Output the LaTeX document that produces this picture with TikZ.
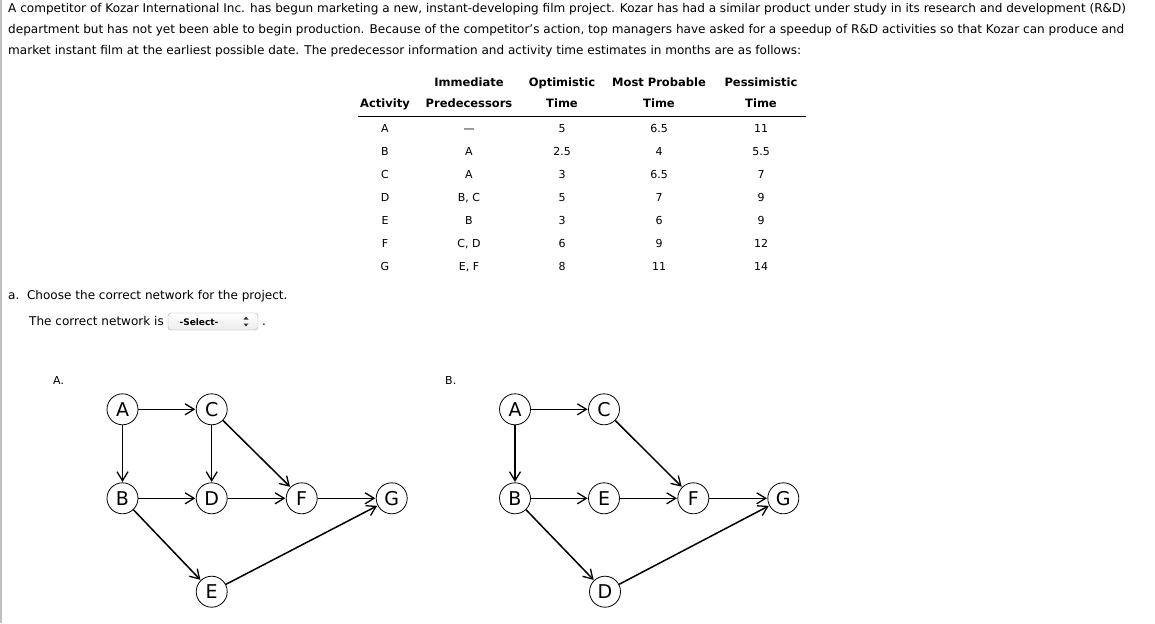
\documentclass[tikz,border=0pt]{standalone}
\usepackage{fontspec}
\setmainfont{DejaVu Sans}
\usetikzlibrary{arrows.meta}
\begin{document}
\begin{tikzpicture}[x=1pt,y=-1pt,
  txt/.style={anchor=base west,inner sep=0pt,font=\fontsize{12.05}{14}\selectfont},
  hd/.style={anchor=base,inner sep=0pt,font=\fontsize{11.5}{13}\selectfont\bfseries},
  cell/.style={anchor=base,inner sep=0pt,font=\fontsize{11}{13}\selectfont},
  ev/.style={circle,draw,line width=0.8pt,minimum size=31pt,inner sep=0pt,font=\fontsize{19}{20}\selectfont},
  arr/.style={-{Straight Barb[length=9pt,width=11pt,line width=1.3pt]},line width=1.5pt,shorten >=0.5pt}
]
\useasboundingbox (0,0) rectangle (1155,623);
\fill[white] (0,0) rectangle (1155,623);
\draw[gray!50,line width=1.5pt] (1,0) -- (1,623);
% intro text
\node[txt] (l1) at (8,13) {A competitor of Kozar International Inc. has begun marketing a new, instant-developing film project. Kozar has had a similar product under study in its research and development (R\&D)};
\node[txt] (l2) at (8,34) {department but has not yet been able to begin production. Because of the competitor's action, top managers have asked for a speedup of R\&D activities so that Kozar can produce and};
\node[txt] (l3) at (8,55) {market instant film at the earliest possible date. The predecessor information and activity time estimates in months are as follows:};
% table header
\node[hd] (h1b) at (469,87) {Immediate};
\node[hd] (h2b) at (562,87) {Optimistic};
\node[hd] (h3b) at (659,87) {Most Probable};
\node[hd] (h4b) at (761,87) {Pessimistic};
\node[hd] (h0) at (385,108) {Activity};
\node[hd] (h1) at (469,108) {Predecessors};
\node[hd] (h2) at (562,108) {Time};
\node[hd] (h3) at (659,108) {Time};
\node[hd] (h4) at (761,108) {Time};
\draw[line width=1pt] (358,116.5) -- (806,116.5);
\foreach \a/\p/\o/\m/\s [count=\i from 0] in {A/---/5/6.5/11, B/A/2.5/4/5.5, C/A/3/6.5/7, D/{B, C}/5/7/9, E/B/3/6/9, F/{C, D}/6/9/12, G/{E, F}/8/11/14}{
  \node[cell] (ra\i) at (385,132+23*\i) {\a};
  \node[cell] (rp\i) at (469,132+23*\i) {\p};
  \node[cell] (ro\i) at (562,132+23*\i) {\o};
  \node[cell] (rm\i) at (659,132+23*\i) {\m};
  \node[cell] (rs\i) at (761,132+23*\i) {\s};
}
% question
\node[txt] (qa) at (8,299) {a.\ \ Choose the correct network for the project.};
\node[txt] (qb) at (29,325) {The correct network is};
\draw[gray!70,rounded corners=3pt,top color=white,bottom color=gray!15] (168,313) rectangle (258,330);
\node[anchor=base,inner sep=0pt,font=\fontsize{9}{10}\selectfont\bfseries] (sel) at (199,325.5) {-Select-};
\fill[black!80] (243.5,319.5) -- (248.5,319.5) -- (246,316.5) -- cycle;
\fill[black!80] (243.5,323.5) -- (248.5,323.5) -- (246,326.5) -- cycle;
\node[txt] (dot) at (262,325) {.};
% network A
\node[anchor=base west,inner sep=0pt,font=\fontsize{11}{12}\selectfont] (la) at (53,384) {A.};
\node[ev] (aA) at (122.5,409.3) {A};
\node[ev] (aC) at (211.7,409.3) {C};
\node[ev] (aB) at (122.5,498.3) {B};
\node[ev] (aD) at (211.7,498.3) {D};
\node[ev] (aF) at (301.7,498.3) {F};
\node[ev] (aG) at (391.7,498.3) {G};
\node[ev] (aE) at (211.7,591.7) {E};
\draw[arr] (aA) -- (aC);
\draw[arr] (aA) -- (aB);
\draw[arr] (aC) -- (aD);
\draw[arr] (aC) -- (aF);
\draw[arr] (aB) -- (aD);
\draw[arr] (aB) -- (aE);
\draw[arr] (aD) -- (aF);
\draw[arr] (aF) -- (aG);
\draw[arr] (aE) -- (aG);
% network B
\node[anchor=base west,inner sep=0pt,font=\fontsize{11}{12}\selectfont] (lb) at (445,384) {B.};
\node[ev] (bA) at (515,409.3) {A};
\node[ev] (bC) at (604,409.3) {C};
\node[ev] (bB) at (515,498.3) {B};
\node[ev] (bE) at (604,498.3) {E};
\node[ev] (bF) at (693.3,498.3) {F};
\node[ev] (bG) at (783.3,498.3) {G};
\node[ev] (bD) at (605,591.7) {D};
\draw[arr] (bA) -- (bC);
\draw[arr] (bA) -- (bB);
\draw[arr] (bC) -- (bF);
\draw[arr] (bB) -- (bE);
\draw[arr] (bE) -- (bF);
\draw[arr] (bB) -- (bD);
\draw[arr] (bF) -- (bG);
\draw[arr] (bD) -- (bG);
\end{tikzpicture}
\end{document}
